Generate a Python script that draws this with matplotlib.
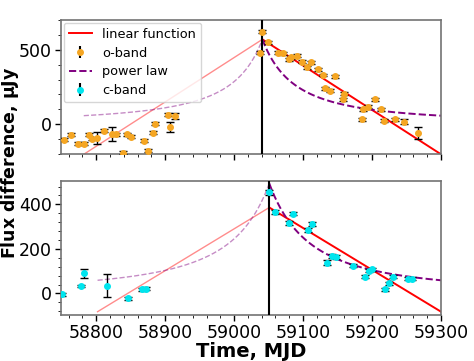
import numpy as np
import matplotlib
matplotlib.use("Agg")
import matplotlib.pyplot as plt
from matplotlib.lines import Line2D
from matplotlib.ticker import AutoMinorLocator

# ---- data: o-band (top panel)
o_mjd = [58754, 58763, 58774, 58783, 58790, 58794, 58801, 58811, 58823, 58829,
         58839, 58844, 58851, 58869, 58875, 58883, 58886, 58904, 58907, 58914,
         59040, 59037, 59049, 59063, 59071, 59079, 59083, 59091, 59099, 59105,
         59112, 59121, 59129, 59147, 59132, 59139, 59160, 59158, 59205, 59187,
         59194, 59213, 59185, 59217, 59233, 59246, 59266]
o_flux = [-108, -74, -135, -135, -74, -101, -95, -47, -68, -68,
          -194, -70, -86, -113, -180, -59, 2, 61, -22, 56,
          624, 482, 552, 482, 477, 437, 451, 462, 421, 383,
          417, 370, 331, 324, 241, 225, 203, 167, 167, 101,
          117, 99, 32, 22, 32, 16, -63]
o_err = [10, 10, 10, 10, 10, 10, 38, 10, 48, 10,
         10, 10, 10, 10, 10, 10, 10, 10, 34, 20,
         12, 12, 10, 10, 10, 10, 10, 10, 10, 10,
         10, 10, 10, 10, 10, 10, 10, 10, 10, 10,
         10, 10, 10, 10, 10, 16, 41]

# ---- data: c-band (bottom panel)
c_mjd = [58751, 58778, 58783, 58816, 58846, 58866, 58872,
         59051, 59060, 59079, 59085, 59107, 59113, 59135, 59142, 59148,
         59172, 59190, 59196, 59200, 59219, 59224, 59231, 59252, 59258]
c_flux = [-4, 34, 90, 34, -22, 18, 22,
          454, 367, 317, 359, 284, 311, 138, 169, 164,
          124, 75, 102, 108, 18, 45, 75, 67, 67]
c_err = [8, 6, 21, 52, 6, 6, 6,
         10, 8, 8, 8, 8, 8, 10, 8, 8,
         6, 6, 6, 6, 6, 6, 6, 6, 6]

# ---- model parameters (peak time, peak flux, linear slope, power-law shape, half-span)
top_t0, top_peak_lin, top_slope, top_peak_pl, top_d, top_p, top_span = 59041, 572, 3.0, 572, 70, 1.5, 259
bot_t0, bot_peak_lin, bot_slope, bot_peak_pl, bot_d, bot_p, bot_span = 59051, 386, 1.88, 494, 100, 1.7, 249

tick_labels_x = [58800, 58900, 59000, 59100, 59200, 59300]

fig = plt.figure(figsize=(4.74, 3.61), dpi=100)
ax1 = fig.add_axes([0.1287, 0.5734, 0.8017, 0.3712])
ax2 = fig.add_axes([0.1287, 0.1274, 0.8017, 0.3712], sharex=ax1)

ORANGE = '#F5A623'
CYAN = '#00E5EE'


def draw_models(ax, t0, peak_lin, slope, peak_pl, d, p, span):
    tl = np.linspace(t0 - span, t0, 300)
    tr = np.linspace(t0, t0 + span, 300)
    ax.plot(tl, peak_lin - slope * np.abs(tl - t0), color='red', lw=1.0, alpha=0.45, zorder=2)
    ax.plot(tr, peak_lin - slope * np.abs(tr - t0), color='red', lw=1.4, zorder=2)
    ax.plot(tl, peak_pl * ((np.abs(tl - t0) + d) / d) ** (-p), color='purple', lw=1.0,
            ls='--', alpha=0.45, zorder=2)
    ax.plot(tr, peak_pl * ((np.abs(tr - t0) + d) / d) ** (-p), color='purple', lw=1.4,
            ls='--', zorder=2)
    ax.axvline(t0, color='black', lw=1.5, zorder=3)


draw_models(ax1, top_t0, top_peak_lin, top_slope, top_peak_pl, top_d, top_p, top_span)
ax1.errorbar(o_mjd, o_flux, yerr=o_err, fmt='o', color=ORANGE, ms=4, ecolor='black',
             elinewidth=1.0, capsize=3, capthick=1.0, zorder=4)

draw_models(ax2, bot_t0, bot_peak_lin, bot_slope, bot_peak_pl, bot_d, bot_p, bot_span)
ax2.errorbar(c_mjd, c_flux, yerr=c_err, fmt='o', color=CYAN, ms=4, ecolor='black',
             elinewidth=1.0, capsize=3, capthick=1.0, zorder=4)

ax1.set_xlim(58749, 59300)
ax1.set_ylim(-203, 703)
ax1.set_yticks([0, 500])
ax2.set_ylim(-97, 505)
ax2.set_yticks([0, 200, 400])
ax2.set_xticks(tick_labels_x)
ax2.set_xticklabels([str(v) for v in tick_labels_x])
plt.setp(ax1.get_xticklabels(), visible=False)

for ax in (ax1, ax2):
    ax.xaxis.set_minor_locator(AutoMinorLocator(5))
    ax.yaxis.set_minor_locator(AutoMinorLocator(5))
    ax.tick_params(labelsize=12.5, length=4, width=1.0, colors='black', pad=2.5)
    ax.tick_params(which='minor', length=2)
    for s in ax.spines.values():
        s.set_color('0.45')
        s.set_linewidth(1.2)

handles = [
    Line2D([], [], color='red', lw=1.4),
    ax1.errorbar([], [], yerr=[], fmt='o', color=ORANGE, ms=4, ecolor='black', capsize=3),
    Line2D([], [], color='purple', lw=1.4, ls='--'),
    ax1.errorbar([], [], yerr=[], fmt='o', color=CYAN, ms=4, ecolor='black', capsize=3),
]
labels = ['linear function', 'o-band', 'power law', 'c-band']
ax1.legend(handles, labels, loc='upper left', fontsize=9.3, handlelength=1.8,
           borderaxespad=0.2, labelspacing=0.45, framealpha=0.8)

fig.text(0.021, 0.55, r'Flux difference, $\mathbf{\mu}$Jy', rotation=90, ha='center',
         va='center', fontsize=12.5, fontweight='bold')
ax2.set_xlabel('Time, MJD', fontsize=14, fontweight='bold', labelpad=0)

fig.savefig('out.png', dpi=100)
